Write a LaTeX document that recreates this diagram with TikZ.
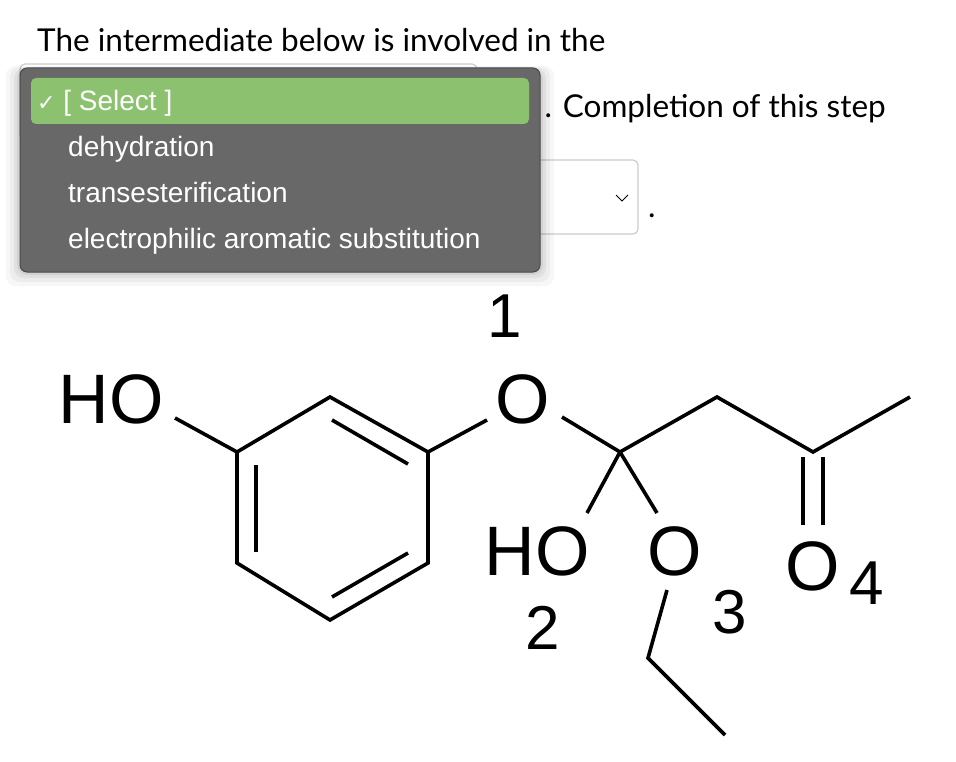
\documentclass[tikz,border=0pt]{standalone}
\usepackage{fontspec}
\setmainfont{Lato}
\newfontfamily\menufont{Liberation Sans}
\newfontfamily\symfont{DejaVu Sans}
\newfontfamily\chemfont{Liberation Sans}
\definecolor{menugray}{HTML}{686868}
\definecolor{menuedge}{HTML}{4A4A4A}
\definecolor{selgreen}{HTML}{8CC16F}
\definecolor{boxedge}{HTML}{CCCCCC}
\begin{document}
\begin{tikzpicture}[x=1pt,y=-1pt,
  bond/.style={line width=3.6pt,line cap=butt},
  menuitem/.style={anchor=base west,text=white,font=\menufont\fontsize{28}{28}\selectfont,inner sep=0pt},
  body/.style={inner sep=0pt,font=\fontsize{31.5}{31.5}\selectfont},
  atom/.style={inner sep=0pt,font=\chemfont\fontsize{70}{70}\selectfont},
  num/.style={inner sep=0pt,font=\chemfont\fontsize{62}{62}\selectfont}]
\useasboundingbox (0,0) rectangle (956,762);
\fill[white] (0,0) rectangle (956,762);
% text
\node[body,anchor=base west] (t1) at (37,52) {The intermediate below is involved in the};
\node[body,anchor=base east] (t2) at (886,118) {) . Completion of this step};
% select boxes
\draw[boxedge,line width=1.2pt,rounded corners=5pt] (20,64) rectangle (477,140);
\draw[boxedge,line width=1.2pt,rounded corners=5pt] (470,160) rectangle (638,234);
\draw[line width=1pt] (616,195) -- (622,201) -- (628,195);
\node[body,anchor=base west] (dot) at (648,218) {.};
% menu shadow
\foreach \i/\o in {14/0.03,10/0.04,6/0.05,3/0.06}
  \fill[black,opacity=\o,rounded corners=10pt] (20-\i,70-\i*0.3) rectangle (540+\i,272+\i);
\draw[fill=menugray,draw=menuedge,line width=1pt,rounded corners=7pt] (20,68) rectangle (540,272);
\fill[selgreen,rounded corners=5pt] (31,78) rectangle (529,124);
\node[menuitem] (m0) at (37,111) {{\symfont\fontsize{22}{22}\selectfont ✓} [ Select ]};
\node[menuitem] (m1) at (68,157) {dehydration};
\node[menuitem] (m2) at (68,203) {transesterification};
\node[menuitem] (m3) at (68,249) {electrophilic aromatic substitution};
% molecule
\coordinate (r1) at (330,397);
\coordinate (r2) at (428,452);
\coordinate (r3) at (428,563);
\coordinate (r4) at (330,620);
\coordinate (r5) at (237,563);
\coordinate (r6) at (237,452);
\draw[bond,line join=miter] (r1)--(r2)--(r3)--(r4)--(r5)--(r6)--cycle;
\draw[bond] (332,420)--(408,464);
\draw[bond] (256,465)--(256,552);
\draw[bond] (332,597)--(408,553);
\node[atom] (ho) at (111,399) {HO};
\draw[bond] (175,418)--(r6);
\node[num] (n1) at (505,316) {1};
\node[atom] (o1) at (523,399) {O};
\draw[bond] (r2)--(487,420);
\coordinate (c) at (620,452);
\coordinate (c2) at (717,397);
\coordinate (c3) at (813,452);
\coordinate (c4) at (910,397);
\draw[bond] (562,417)--(c);
\draw[bond,line join=miter] (c)--(c2)--(c3)--(c4);
\draw[bond] (803,457)--(803,525);
\draw[bond] (823,457)--(823,525);
\node[atom] (o4) at (813,566) {O};
\node[num] (n4) at (867,583) {4};
\node[atom] (ho2) at (537,551) {HO};
\node[num] (n2) at (543,628) {2};
\draw[bond] (c)--(587,513);
\node[atom] (o3) at (675,551) {O};
\node[num] (n3) at (730,612) {3};
\draw[bond] (c)--(657,513);
\coordinate (e1) at (648,658);
\coordinate (e2) at (725,735);
\draw[bond,line join=miter] (667,590)--(e1)--(e2);
\end{tikzpicture}
\end{document}
